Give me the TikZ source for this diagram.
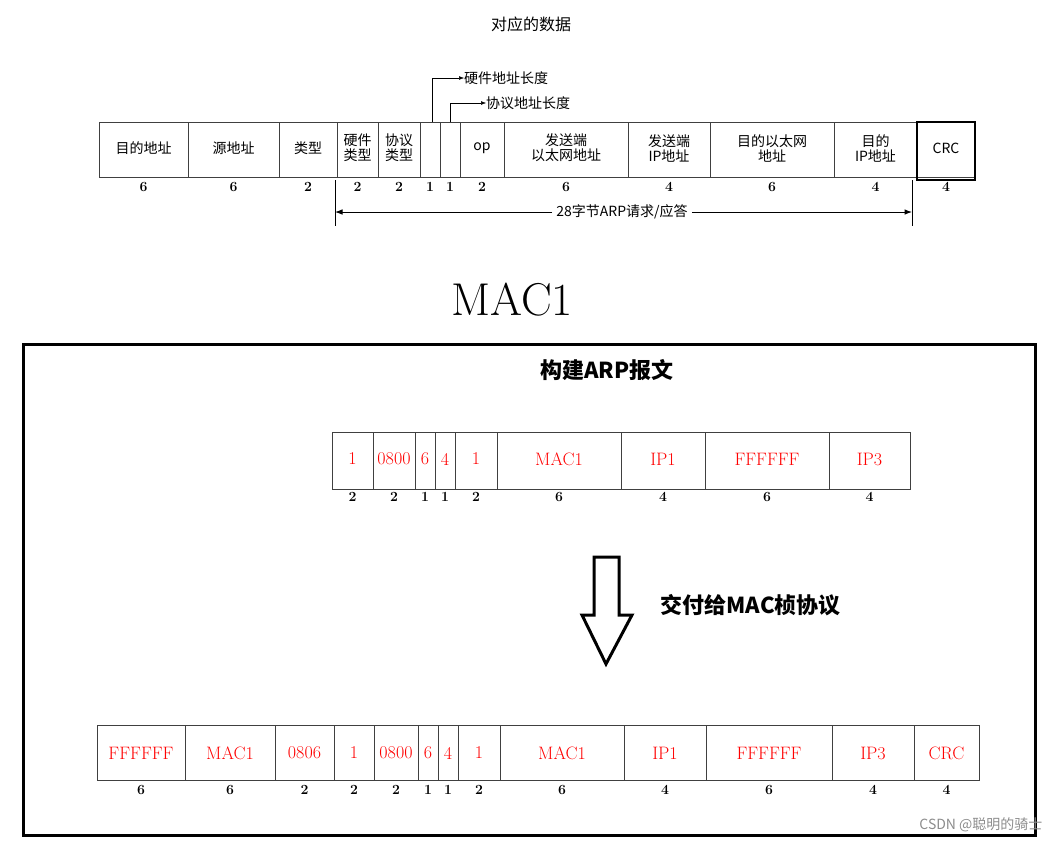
\documentclass[tikz,border=0pt]{standalone}
\usepackage{fontspec}
\newfontfamily\cjk{Noto Sans CJK SC}
\usetikzlibrary{arrows.meta}
\begin{document}
\begin{tikzpicture}[x=1pt,y=-1pt,
  cellline/.style={draw=black!75,line width=1pt},
  lbl/.style={font=\cjk\fontsize{14}{15}\selectfont,align=center,inner sep=0},
  num/.style={font=\bfseries\fontsize{14}{14}\selectfont,inner sep=0},
  red/.style={text=red,font=\fontsize{18}{18}\selectfont,inner sep=0}]
\useasboundingbox (0,0) rectangle (1062,844);
\node[font=\cjk\fontsize{16}{16}\selectfont] (title) at (531,24) {对应的数据};
% top table
\def\row#1#2#3#4{% y1 y2 numy list
}
\foreach \a/\b/\t/\n [count=\i] in {99/188/目的地址/6,188/279/源地址/6,279/337/类型/2,337/378/硬件\\类型/2,378/420/协议\\类型/2,420/440//1,440/460//1,460/504/op/2,504/628/发送端\\以太网地址/6,628/710/发送端\\IP地址/4,710/834/目的以太网\\地址/6,834/917/目的\\IP地址/4,917/975/CRC/4}{
  \draw[cellline] (\a,122) rectangle (\b,177);
  \node[lbl] (t\i) at ({(\a+\b)/2},148) {\t};
  \node[num] (tn\i) at ({(\a+\b)/2},187) {\n};
}
\draw[line width=1.5pt] (917,122) rectangle (975,180);
\coordinate (h1) at (432,122); \coordinate (h2) at (450,122);
\node[lbl,anchor=west] (hw) at (464,78) {硬件地址长度};
\node[lbl,anchor=west] (pr) at (486,103) {协议地址长度};
\draw[-{Latex}] (h1) -- (432,78) -- (hw.west);
\draw[-{Latex}] (h2) -- (450,103) -- (pr.west);
\coordinate (L) at (335,212); \coordinate (R) at (912,212);
\draw (335,180) -- (335,226); \draw (912,180) -- (912,226);
\node[lbl,fill=white,inner sep=4pt] (len) at (622,212) {28字节ARP请求/应答};
\draw[-{Latex},line width=1pt] (len.west) -- (L);
\draw[-{Latex},line width=1pt] (len.east) -- (R);
% MAC1
\node[font=\fontsize{46}{46}\selectfont] (mac) at (512,300) {MAC1};
\draw[line width=3pt] (23,344) rectangle (1035,835);
\node[font=\cjk\bfseries\fontsize{22}{22}\selectfont] (build) at (607,370) {构建ARP报文};
% middle table
\foreach \a/\b/\t/\n [count=\i] in {332/373/1/2,373/415/0800/2,415/435/6/1,435/455/4/1,455/497/1/2,497/621/MAC1/6,621/705/IP1/4,705/829/FFFFFF/6,829/910/IP3/4}{
  \draw[cellline] (\a,432) rectangle (\b,489);
  \node[red] (m\i) at ({(\a+\b)/2},459) {\t};
  \node[num] (mn\i) at ({(\a+\b)/2},497) {\n};
}
% hollow arrow
\draw[line width=3pt,line join=miter] (594,557) -- (619,557) -- (619,615) -- (632,615) -- (606,664) -- (582,615) -- (594,615) -- cycle;
\node[font=\cjk\bfseries\fontsize{22}{22}\selectfont,anchor=west] (deliver) at (657,605) {交付给MAC桢协议};
% bottom table
\foreach \a/\b/\t/\n [count=\i] in {97/185/FFFFFF/6,185/275/MAC1/6,275/334/0806/2,334/374/1/2,374/418/0800/2,418/438/6/1,438/458/4/1,458/500/1/2,500/624/MAC1/6,624/706/IP1/4,706/832/FFFFFF/6,832/914/IP3/4,914/979/CRC/4}{
  \draw[cellline] (\a,725) rectangle (\b,780);
  \node[red] (b\i) at ({(\a+\b)/2},753) {\t};
  \node[num] (bn\i) at ({(\a+\b)/2},790) {\n};
}
\node[font=\cjk\fontsize{14}{14}\selectfont,text=black!45,anchor=east] (wm) at (1046,825) {CSDN @聪明的骑士};
\end{tikzpicture}
\end{document}
